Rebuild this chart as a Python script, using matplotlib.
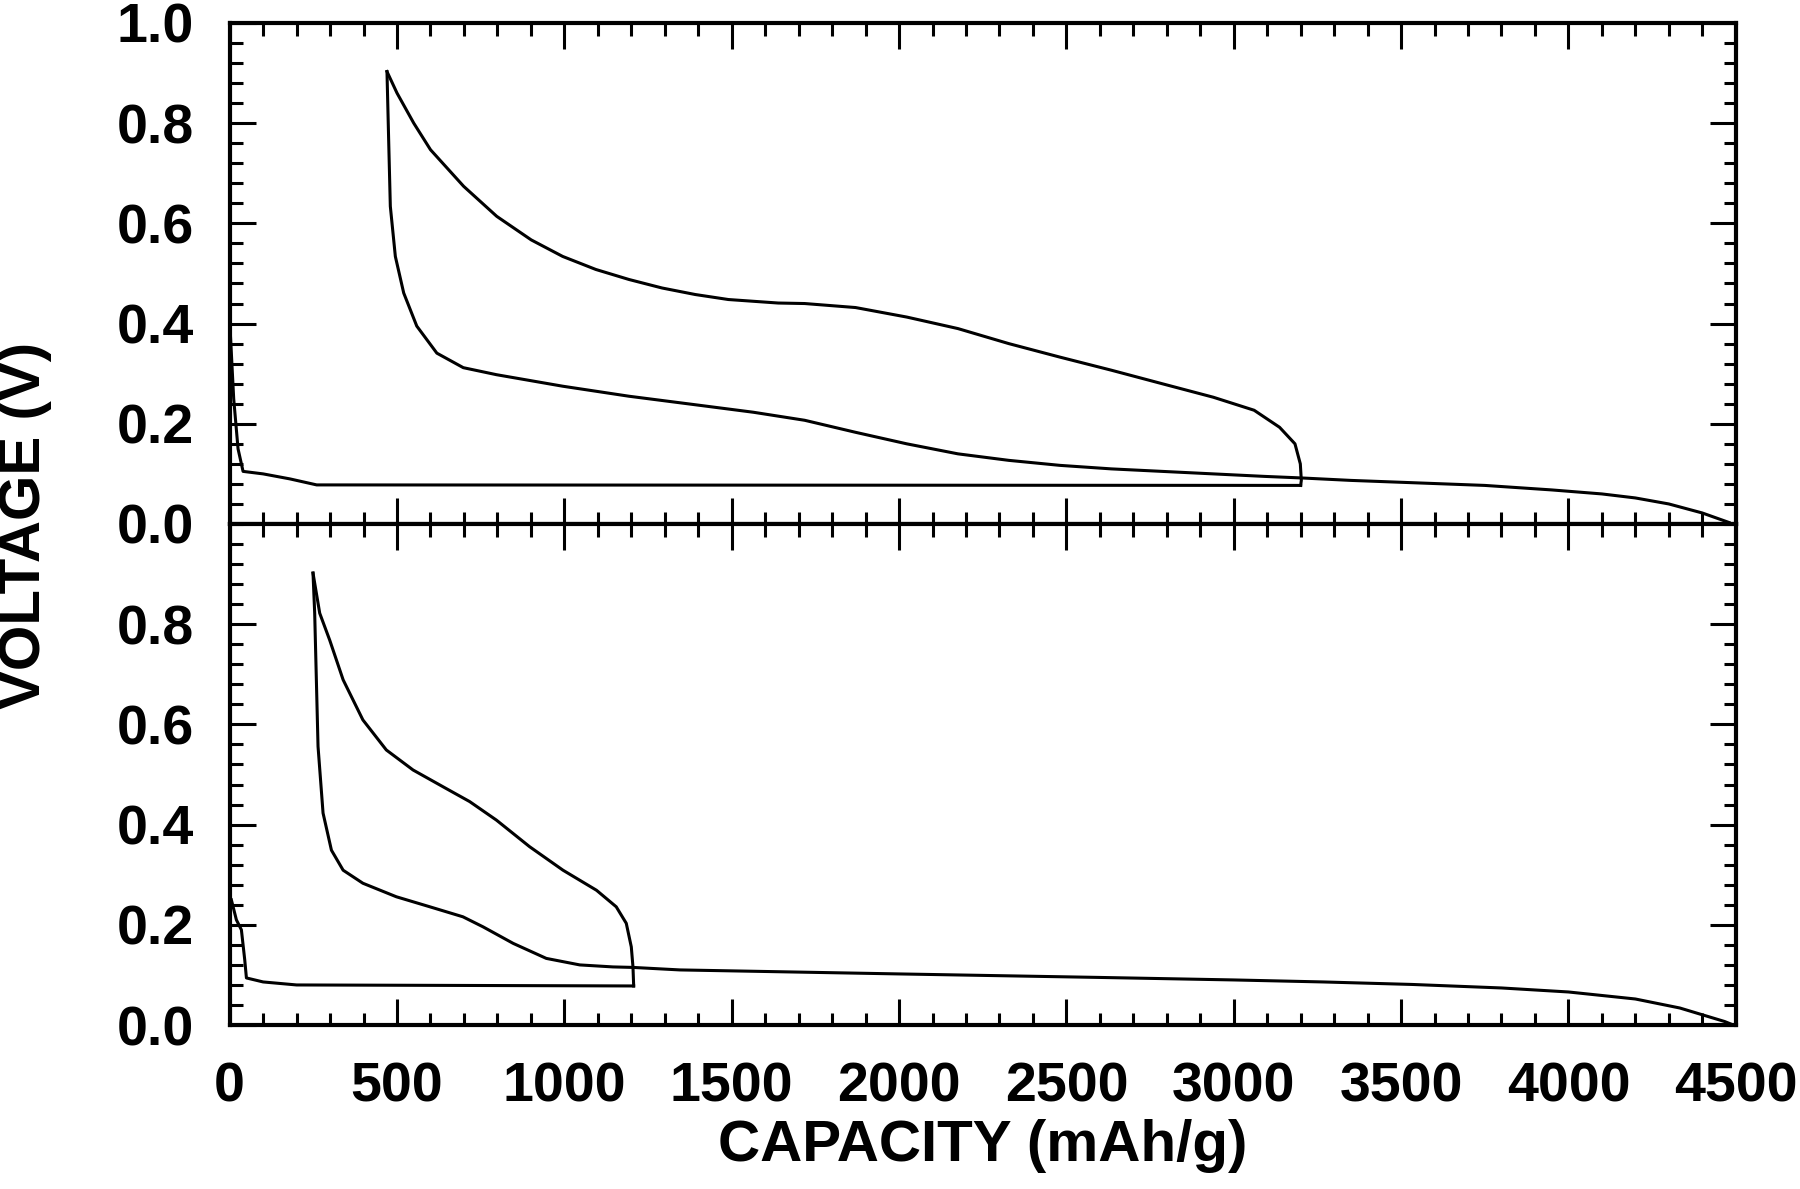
import matplotlib
matplotlib.use('Agg')
import matplotlib.pyplot as plt
from matplotlib.ticker import MultipleLocator

plt.rcParams['font.family'] = ['Liberation Sans', 'DejaVu Sans']
plt.rcParams['font.weight'] = 'bold'

# top panel: first discharge, charge (plotted backwards), second discharge
top_d1_x = [2, 12, 25, 40, 100, 180, 260, 3200]
top_d1_y = [0.38, 0.25, 0.15, 0.105, 0.10, 0.09, 0.078, 0.077]

top_ch_x = [3200, 3202, 3199, 3183, 3137, 3061, 2939, 2786, 2634, 2481, 2328, 2176,
            2023, 1870, 1718, 1639, 1490, 1391, 1292, 1193, 1094, 995, 901, 798,
            699, 600, 550, 500, 470]
top_ch_y = [0.077, 0.087, 0.12, 0.16, 0.193, 0.227, 0.253, 0.28, 0.307, 0.333, 0.36, 0.39,
            0.413, 0.432, 0.44, 0.441, 0.448, 0.458, 0.471, 0.488, 0.508, 0.534, 0.567,
            0.614, 0.674, 0.747, 0.80, 0.86, 0.903]

top_d2_x = [470, 475, 480, 495, 520, 559, 619, 698, 797, 995, 1193, 1391, 1565,
            1718, 1870, 2023, 2176, 2328, 2481, 2634, 2786, 2939, 3092, 3199, 3350,
            3550, 3750, 3950, 4100, 4200, 4300, 4400, 4480]
top_d2_y = [0.903, 0.767, 0.634, 0.534, 0.461, 0.395, 0.341, 0.312, 0.298, 0.275, 0.255,
            0.238, 0.223, 0.207, 0.183, 0.16, 0.14, 0.127, 0.117, 0.11, 0.105, 0.1, 0.095,
            0.092, 0.087, 0.082, 0.077, 0.068, 0.06, 0.052, 0.04, 0.022, 0.003]

# bottom panel
bot_d1_x = [5, 20, 35, 45, 50, 100, 200, 1207]
bot_d1_y = [0.25, 0.21, 0.19, 0.13, 0.094, 0.086, 0.08, 0.078]

bot_ch_x = [1207, 1207, 1205, 1200, 1185, 1155, 1096, 996, 896, 797, 717, 647, 548,
            468, 398, 339, 299, 269, 249]
bot_ch_y = [0.078, 0.08, 0.116, 0.156, 0.203, 0.236, 0.269, 0.309, 0.356, 0.409, 0.446,
            0.472, 0.509, 0.549, 0.609, 0.689, 0.768, 0.822, 0.902]

bot_d2_x = [249, 254, 259, 264, 279, 304, 339, 398, 498, 598, 697, 757, 847, 946, 1046,
            1145, 1205, 1345, 2000, 2600, 3000, 3267, 3533, 3800, 4000, 4200, 4333,
            4467, 4493]
bot_d2_y = [0.902, 0.822, 0.689, 0.556, 0.423, 0.349, 0.309, 0.283, 0.256, 0.236, 0.216,
            0.196, 0.163, 0.133, 0.12, 0.116, 0.115, 0.11, 0.102, 0.095, 0.09, 0.086,
            0.081, 0.074, 0.066, 0.052, 0.034, 0.007, 0.0]

fig, (ax1, ax2) = plt.subplots(2, 1, sharex=True, figsize=(18, 11.89), dpi=100)
fig.subplots_adjust(left=0.1276, right=0.9643, bottom=0.1379, top=0.9807, hspace=0)

lw = 2.2
ax1.plot(top_d1_x, top_d1_y, color='black', lw=lw)
ax1.plot(top_ch_x, top_ch_y, color='black', lw=lw)
ax1.plot(top_d2_x, top_d2_y, color='black', lw=lw)
ax2.plot(bot_d1_x, bot_d1_y, color='black', lw=lw)
ax2.plot(bot_ch_x, bot_ch_y, color='black', lw=lw)
ax2.plot(bot_d2_x, bot_d2_y, color='black', lw=lw)

for ax in (ax1, ax2):
    ax.set_xlim(0, 4500)
    ax.set_ylim(0, 1.0)
    ax.xaxis.set_major_locator(MultipleLocator(500))
    ax.xaxis.set_minor_locator(MultipleLocator(100))
    ax.yaxis.set_major_locator(MultipleLocator(0.2))
    ax.yaxis.set_minor_locator(MultipleLocator(0.04))
    ax.tick_params(which='both', direction='in', top=True, right=True, width=2.2,
                   labelsize=40, pad=26)
    ax.tick_params(which='major', length=19)
    ax.tick_params(which='minor', length=9)
    for s in ax.spines.values():
        s.set_linewidth(3)
    ax.yaxis.set_major_formatter(plt.FuncFormatter(lambda v, p: f'{v:.1f}'))

ax2.set_yticks([0.0, 0.2, 0.4, 0.6, 0.8])
ax2.set_ylim(0, 1.0)
ax2.set_xlabel('CAPACITY (mAh/g)', fontsize=42, fontweight='bold', labelpad=4)
fig.text(0.014, 0.5585, 'VOLTAGE (V)', rotation=90, ha='center', va='center',
         fontsize=42, fontweight='bold')

plt.savefig('out.png')
plt.close()
